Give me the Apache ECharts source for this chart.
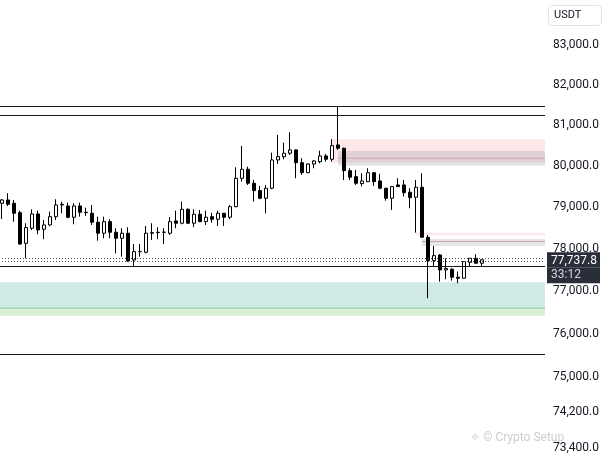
<!DOCTYPE html>
<html><head><meta charset="utf-8">
<script src="https://cdn.jsdelivr.net/npm/echarts@6/dist/echarts.min.js"></script>
<style>html,body{margin:0;padding:0;background:#fff}#c{width:607px;height:455px}</style>
</head><body><div id="c"></div>
<script>
// ---- data (prices in USDT) ----
const opens = [79088,79168,79088,78862,78129,78488,78831,78464,78567,78766,
  79047,79023,78752,79023,78872,78848,78632,78369,78646,78392,
  78249,78369,77733,77929,77915,78369,78383,78392,78369,78663,
  78608,78943,78608,78824,78646,78766,78704,78848,78752,79006,
  79694,79913,79573,79394,79209,79452,80140,80221,80305,80386,
  80074,79830,80042,80098,80238,80157,80508,80427,79879,79733,
  79564,79612,79830,79629,79452,79209,79532,79532,79355,79234,
  79476,78273,77716,77851,77496,77513,77324,77300,77678,77773,77655];
const closes = [79168,79064,78848,78112,78503,78831,78448,78567,78766,79047,
  79064,78752,79023,78872,78862,78632,78369,78646,78392,78249,
  78369,77709,77929,77935,78369,78383,78392,78395,78646,78608,
  78943,78608,78824,78646,78752,78704,78848,78752,79006,79694,
  79913,79573,79394,79209,79452,80140,80221,80305,80386,80074,
  79830,80042,80115,80238,80157,80491,80427,79879,79719,79573,
  79629,79830,79612,79452,79209,79491,79491,79345,79224,79476,
  78273,77716,77835,77496,77530,77324,77300,77693,77773,77655,77737.8];
const highs = [79192,79331,79168,78910,78608,78943,78910,78687,78886,79185,
  79127,79103,79088,79103,78982,79047,78766,78766,78704,78488,
  78488,78512,78112,78112,78543,78608,78512,78488,78752,78910,
  79127,78967,78943,78927,78910,78862,78910,78855,79047,79961,
  80484,79976,79653,79508,79532,80319,80754,80565,80820,80395,
  80182,80059,80140,80368,80287,80648,81460,80440,79937,79896,
  79816,79937,79840,79799,79460,79508,79694,79653,79452,79653,
  79816,78328,78064,77868,77773,77537,77456,77700,77780,77868,77745];
const lows = [78711,79023,78646,78088,77773,78448,78345,78225,78543,78687,
  78848,78728,78584,78766,78783,78567,78191,78249,78249,77891,
  77811,77693,77574,77811,77891,78208,78225,78112,78328,78488,
  78584,78600,78512,78640,78567,78623,78543,78543,78704,78991,
  79612,79532,79127,79185,78848,79428,80042,80157,80263,79694,
  79774,79816,79937,80059,80098,80098,80386,79653,79653,79532,
  79496,79600,79508,79428,79151,78927,79485,79248,78967,78383,
  78260,76830,77591,77220,77277,77244,77182,77295,77574,77650,77574];
const futureSlots = 10;
const priceTicks = [83000,82000,81000,80000,79000,78000,77000,76000,75000,74200,73400];
const priceRange = [73243, 84147];
const levelLines = [81470, 81246, 77574, 75534];
const dottedLevels = [77775, 77705];
const lastPrice = 77737.8;
const countdown = '33:12';
const demandZone = [77205, 76619];
const demandOverlap = [76619, 76572];
const demandZone2 = [76572, 76423];
const supplyUpper = { start: 55, top: 80647, bottom: 80073 };
const supplyUpperCore = { start: 56, top: 80359, bottom: 80000, mid: 80180 };
const supplyLower = { start: 69, top: 78382, bottom: 78318 };
const supplyLowerCore = { start: 70, top: 78232, bottom: 78065, mid: 78170 };

// ---- build ----
const L = v => Math.log10(v);
const fmt = v => v.toLocaleString('en-US', {minimumFractionDigits: 1, maximumFractionDigits: 1});
const categories = opens.map((_, i) => 'c' + (i + 1))
  .concat(Array.from({length: futureSlots}, (_, i) => 'f' + (i + 1)));
const candleData = opens.map((o, i) => [L(o), L(closes[i]), L(lows[i]), L(highs[i])]);

const FONT = 'Roboto';
const pink = 'rgba(242,54,69,0.12)';
const greyOver = 'rgba(120,123,134,0.2)';
const midLine = 'rgba(200,150,165,0.8)';

function band(top, bottom, color, start) {
  const a = {yAxis: L(top), itemStyle: {color: color}};
  if (start != null) a.xAxis = start;
  return [a, {yAxis: L(bottom)}];
}

const chart = echarts.init(document.getElementById('c'), null, {renderer: 'canvas'});
chart.setOption({
  animation: false,
  backgroundColor: '#ffffff',
  textStyle: {fontFamily: FONT},
  title: {
    text: 'USDT', left: 548, top: 5,
    padding: [5, 20, 5, 6],
    borderColor: '#e0e3eb', borderWidth: 1, borderRadius: 4,
    textStyle: {fontSize: 11, fontWeight: 'normal', color: '#131722', fontFamily: FONT}
  },
  graphic: [{
    type: 'text', left: 470, top: 432, silent: true,
    style: {text: '\u2727 \u00A9 Crypto Setup', fill: '#cdcdd2', font: '12px ' + FONT}
  }],
  grid: {left: -1, right: 62, top: 0, bottom: 0, outerBoundsMode: 'none', containLabel: false},
  xAxis: {
    type: 'category', data: categories, boundaryGap: true,
    axisLine: {show: false}, axisTick: {show: false}, axisLabel: {show: false}, splitLine: {show: false}
  },
  yAxis: {
    type: 'value', position: 'right', min: L(priceRange[0]), max: L(priceRange[1]),
    axisLine: {show: false}, axisTick: {show: false}, splitLine: {show: false},
    axisLabel: {
      customValues: priceTicks.map(L),
      formatter: v => fmt(Math.round(Math.pow(10, v))),
      color: '#131722', fontSize: 12, fontFamily: FONT, margin: 8, align: 'left'
    }
  },
  series: [{
    type: 'candlestick',
    data: candleData,
    barWidth: 4,
    itemStyle: {color: '#ffffff', color0: '#000000', borderColor: '#000000', borderColor0: '#000000', borderWidth: 1},
    emphasis: {disabled: true},
    markArea: {
      silent: true,
      precision: 12,
      emphasis: {disabled: true},
      label: {show: false},
      data: [
        band(demandZone[0], demandZone[1], '#cfeae4'),
        band(demandOverlap[0], demandOverlap[1], '#a6d6b6'),
        band(demandZone2[0], demandZone2[1], '#dcf0d9'),
        band(supplyUpper.top, supplyUpper.bottom, pink, supplyUpper.start),
        band(supplyUpperCore.top, supplyUpperCore.bottom, greyOver, supplyUpperCore.start),
        band(supplyUpperCore.mid + 12, supplyUpperCore.mid - 12, midLine, supplyUpperCore.start),
        band(supplyLower.top, supplyLower.bottom, pink, supplyLower.start),
        band(supplyLowerCore.top, supplyLowerCore.bottom, greyOver, supplyLowerCore.start),
        band(supplyLowerCore.mid + 12, supplyLowerCore.mid - 12, midLine, supplyLowerCore.start)
      ]
    },
    markLine: {
      silent: true, symbol: 'none',
      precision: 12,
      emphasis: {disabled: true},
      label: {show: false},
      lineStyle: {color: '#131722', width: 1, type: 'solid'},
      data: levelLines.map(v => ({yAxis: L(v)}))
        .concat(dottedLevels.map(v => ({yAxis: L(v), lineStyle: {color: '#4a4d57', type: [1, 2], width: 1}})))
        .concat([{
          yAxis: L(lastPrice),
          lineStyle: {color: 'rgba(0,0,0,0)', width: 1},
          label: {
            show: true, position: 'end', distance: 2,
            formatter: '{s| }\n{a|' + fmt(lastPrice) + '}\n{b|' + countdown + '}',
            rich: {
              s: {height: 16, color: 'rgba(0,0,0,0)', fontSize: 10},
              a: {backgroundColor: '#2a2e39', color: '#ffffff', width: 45, height: 13, padding: [2, 4, 0, 4], fontSize: 12, fontFamily: FONT},
              b: {backgroundColor: '#2a2e39', color: '#d1d4dc', width: 45, height: 13, padding: [1, 4, 2, 4], fontSize: 12, fontFamily: FONT}
            }
          }
        }])
    }
  }]
});
</script>
</body></html>
